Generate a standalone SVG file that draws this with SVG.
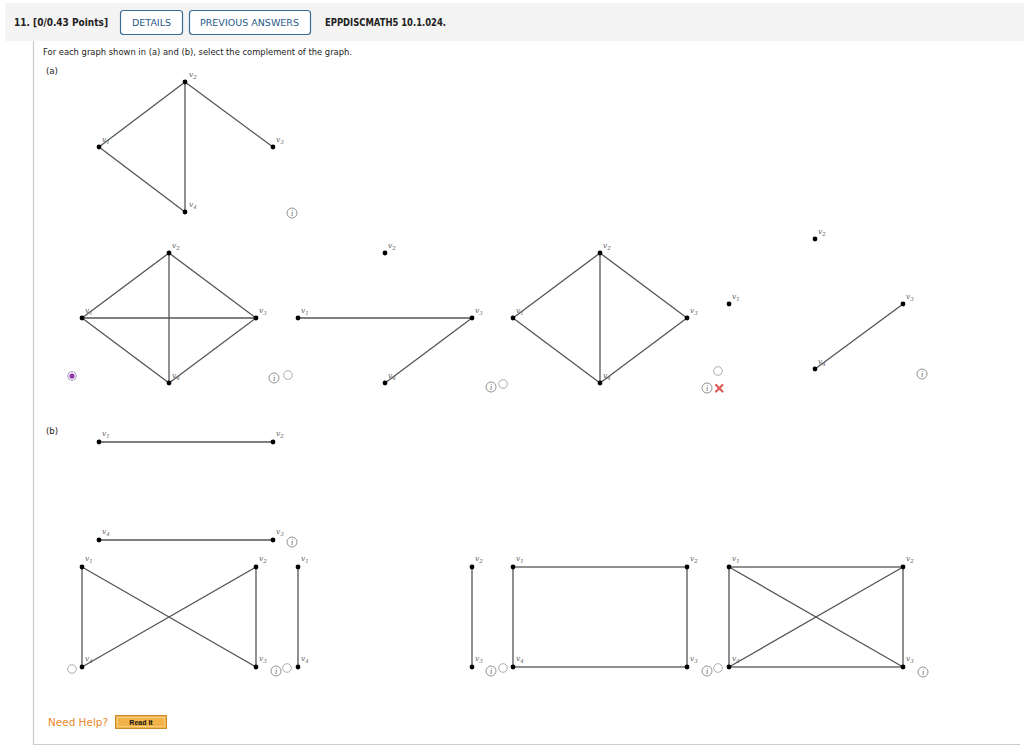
<svg xmlns="http://www.w3.org/2000/svg" width="1024" height="750" viewBox="0 0 1024 750">
<defs>
<style>
.hdr{font-family:"DejaVu Sans",Verdana,sans-serif;font-size:10px;font-weight:bold;fill:#222}
.btn{fill:#fff;stroke:#3a6d96;stroke-width:1.2}
.btxt{font-family:"DejaVu Sans",Verdana,sans-serif;font-size:9.5px;fill:#2a5a8a}
.body{font-family:"DejaVu Sans",Verdana,sans-serif;font-size:8.6px;fill:#222}
.e{stroke:#555;stroke-width:1.3;fill:none}
.n{fill:#000}
.lb{font-family:"DejaVu Serif","Liberation Serif",serif;font-style:italic;font-size:7.5px;fill:#666}
.sb{font-size:5.5px}
.info{fill:#fff;stroke:#777;stroke-width:0.8}
.itx{font-family:"Liberation Serif",serif;font-style:italic;font-size:8px;fill:#555;text-anchor:middle}
.rad{fill:#fff;stroke:#999;stroke-width:0.8}
</style>
<symbol id="inf" overflow="visible"><circle class="info" cx="0" cy="0" r="5"/><text class="itx" x="0" y="3">i</text></symbol>
<symbol id="rb" overflow="visible"><circle class="rad" cx="0" cy="0" r="4.3"/></symbol>
</defs>
<rect width="1024" height="750" fill="#fff"/>
<g id="header">
<rect x="5" y="3" width="1019" height="38" fill="#f4f4f4"/>
<text class="hdr" x="14" y="26" textLength="94" lengthAdjust="spacingAndGlyphs">11.  [0/0.43 Points]</text>
<rect class="btn" x="120.5" y="10.5" width="62" height="24" rx="3"/>
<text class="btxt" x="132" y="26" textLength="39" lengthAdjust="spacingAndGlyphs">DETAILS</text>
<rect class="btn" x="189.5" y="10.5" width="121" height="24" rx="3"/>
<text class="btxt" x="200" y="26" textLength="99" lengthAdjust="spacingAndGlyphs">PREVIOUS ANSWERS</text>
<text class="hdr" x="325" y="26" textLength="121" lengthAdjust="spacingAndGlyphs">EPPDISCMATH5 10.1.024.</text>
</g>
<g id="frame" stroke="#ccc" stroke-width="1.2" fill="none">
<path d="M33.5 41 V744.5 H1020"/>
</g>
<text class="body" x="43" y="55" textLength="309" lengthAdjust="spacingAndGlyphs">For each graph shown in (a) and (b), select the complement of the graph.</text>
<text class="body" x="46" y="74">(a)</text>
<text class="body" x="46" y="434">(b)</text>

<g id="connectors">
<line class="e" x1="99" y1="147" x2="185" y2="82"/>
<line class="e" x1="185" y1="82" x2="273" y2="147"/>
<line class="e" x1="185" y1="82" x2="185" y2="212"/>
<line class="e" x1="99" y1="147" x2="185" y2="212"/>
<line class="e" x1="82" y1="318" x2="169" y2="253"/>
<line class="e" x1="169" y1="253" x2="256" y2="318"/>
<line class="e" x1="256" y1="318" x2="169" y2="383"/>
<line class="e" x1="169" y1="383" x2="82" y2="318"/>
<line class="e" x1="82" y1="318" x2="256" y2="318"/>
<line class="e" x1="169" y1="253" x2="169" y2="383"/>
<line class="e" x1="298" y1="318" x2="472" y2="318"/>
<line class="e" x1="472" y1="318" x2="385" y2="383"/>
<line class="e" x1="513" y1="318" x2="600" y2="253"/>
<line class="e" x1="600" y1="253" x2="687" y2="318"/>
<line class="e" x1="687" y1="318" x2="600" y2="383"/>
<line class="e" x1="600" y1="383" x2="513" y2="318"/>
<line class="e" x1="600" y1="253" x2="600" y2="383"/>
<line class="e" x1="903" y1="304" x2="815" y2="369"/>
<line class="e" x1="99" y1="442" x2="273" y2="442"/>
<line class="e" x1="99" y1="540" x2="273" y2="540"/>
<line class="e" x1="82" y1="567" x2="82" y2="667"/>
<line class="e" x1="256" y1="567" x2="256" y2="667"/>
<line class="e" x1="82" y1="567" x2="256" y2="667"/>
<line class="e" x1="256" y1="567" x2="82" y2="667"/>
<line class="e" x1="298" y1="567" x2="298" y2="667"/>
<line class="e" x1="472" y1="567" x2="472" y2="667"/>
<rect class="e" x="513" y="567" width="174" height="100"/>
<rect class="e" x="729" y="567" width="174" height="100"/>
<line class="e" x1="729" y1="567" x2="903" y2="667"/>
<line class="e" x1="903" y1="567" x2="729" y2="667"/>
</g>

<g id="graph-a">
<circle class="n" cx="99" cy="147" r="2.4"/><circle class="n" cx="185" cy="82" r="2.4"/><circle class="n" cx="273" cy="147" r="2.4"/><circle class="n" cx="185" cy="212" r="2.4"/>
<text class="lb" x="102" y="142">v<tspan class="sb" dy="1.5">1</tspan></text>
<text class="lb" x="189" y="77">v<tspan class="sb" dy="1.5">2</tspan></text>
<text class="lb" x="276" y="142">v<tspan class="sb" dy="1.5">3</tspan></text>
<text class="lb" x="189" y="207">v<tspan class="sb" dy="1.5">4</tspan></text>
<use href="#inf" x="292" y="213"/>
</g>

<g id="a-opt1">
<circle class="n" cx="82" cy="318" r="2.4"/><circle class="n" cx="169" cy="253" r="2.4"/><circle class="n" cx="256" cy="318" r="2.4"/><circle class="n" cx="169" cy="383" r="2.4"/>
<text class="lb" x="85" y="313">v<tspan class="sb" dy="1.5">1</tspan></text>
<text class="lb" x="172" y="248">v<tspan class="sb" dy="1.5">2</tspan></text>
<text class="lb" x="259" y="313">v<tspan class="sb" dy="1.5">3</tspan></text>
<text class="lb" x="172" y="378">v<tspan class="sb" dy="1.5">4</tspan></text>
<circle cx="72" cy="376" r="4.3" fill="#fff" stroke="#b48cc8" stroke-width="1"/>
<circle cx="72" cy="376" r="2.6" fill="#8e3aa6"/>
</g>
<g id="a-opt2">
<circle class="n" cx="298" cy="318" r="2.4"/><circle class="n" cx="385" cy="253" r="2.4"/><circle class="n" cx="472" cy="318" r="2.4"/><circle class="n" cx="385" cy="383" r="2.4"/>
<text class="lb" x="301" y="313">v<tspan class="sb" dy="1.5">1</tspan></text>
<text class="lb" x="388" y="248">v<tspan class="sb" dy="1.5">2</tspan></text>
<text class="lb" x="475" y="313">v<tspan class="sb" dy="1.5">3</tspan></text>
<text class="lb" x="388" y="378">v<tspan class="sb" dy="1.5">4</tspan></text>
<use href="#inf" x="274" y="378"/><use href="#rb" x="288" y="375"/>
</g>
<g id="a-opt3">
<circle class="n" cx="513" cy="318" r="2.4"/><circle class="n" cx="600" cy="253" r="2.4"/><circle class="n" cx="687" cy="318" r="2.4"/><circle class="n" cx="600" cy="383" r="2.4"/>
<text class="lb" x="516" y="313">v<tspan class="sb" dy="1.5">1</tspan></text>
<text class="lb" x="603" y="248">v<tspan class="sb" dy="1.5">2</tspan></text>
<text class="lb" x="690" y="313">v<tspan class="sb" dy="1.5">3</tspan></text>
<text class="lb" x="603" y="378">v<tspan class="sb" dy="1.5">4</tspan></text>
<use href="#inf" x="491" y="387"/><use href="#rb" x="503" y="384"/>
</g>
<g id="a-opt4">
<circle class="n" cx="729" cy="304" r="2.4"/><circle class="n" cx="815" cy="239" r="2.4"/><circle class="n" cx="903" cy="304" r="2.4"/><circle class="n" cx="815" cy="369" r="2.4"/>
<text class="lb" x="732" y="299">v<tspan class="sb" dy="1.5">1</tspan></text>
<text class="lb" x="818" y="234">v<tspan class="sb" dy="1.5">2</tspan></text>
<text class="lb" x="906" y="299">v<tspan class="sb" dy="1.5">3</tspan></text>
<text class="lb" x="818" y="364">v<tspan class="sb" dy="1.5">4</tspan></text>
<use href="#rb" x="718" y="371"/>
<use href="#inf" x="707" y="388"/>
<path d="M716 385 L722.5 391.5 M722.5 385 L716 391.5" stroke="#e05a5a" stroke-width="2.2" stroke-linecap="round"/>
<use href="#inf" x="922" y="374"/>
</g>

<g id="graph-b">
<circle class="n" cx="99" cy="442" r="2.4"/><circle class="n" cx="273" cy="442" r="2.4"/><circle class="n" cx="273" cy="540" r="2.4"/><circle class="n" cx="99" cy="540" r="2.4"/>
<text class="lb" x="102" y="436">v<tspan class="sb" dy="1.5">1</tspan></text>
<text class="lb" x="276" y="436">v<tspan class="sb" dy="1.5">2</tspan></text>
<text class="lb" x="276" y="534">v<tspan class="sb" dy="1.5">3</tspan></text>
<text class="lb" x="102" y="534">v<tspan class="sb" dy="1.5">4</tspan></text>
<use href="#inf" x="292" y="542"/>
</g>
<g id="b-opt1">
<circle class="n" cx="82" cy="567" r="2.4"/><circle class="n" cx="256" cy="567" r="2.4"/><circle class="n" cx="256" cy="667" r="2.4"/><circle class="n" cx="82" cy="667" r="2.4"/>
<text class="lb" x="85" y="561">v<tspan class="sb" dy="1.5">1</tspan></text>
<text class="lb" x="259" y="561">v<tspan class="sb" dy="1.5">2</tspan></text>
<text class="lb" x="259" y="661">v<tspan class="sb" dy="1.5">3</tspan></text>
<text class="lb" x="85" y="661">v<tspan class="sb" dy="1.5">4</tspan></text>
<use href="#rb" x="72" y="669"/>
</g>
<g id="b-opt2">
<circle class="n" cx="298" cy="567" r="2.4"/><circle class="n" cx="472" cy="567" r="2.4"/><circle class="n" cx="472" cy="667" r="2.4"/><circle class="n" cx="298" cy="667" r="2.4"/>
<text class="lb" x="301" y="561">v<tspan class="sb" dy="1.5">1</tspan></text>
<text class="lb" x="475" y="561">v<tspan class="sb" dy="1.5">2</tspan></text>
<text class="lb" x="475" y="661">v<tspan class="sb" dy="1.5">3</tspan></text>
<text class="lb" x="301" y="661">v<tspan class="sb" dy="1.5">4</tspan></text>
<use href="#inf" x="276" y="671"/><use href="#rb" x="287" y="668"/>
</g>
<g id="b-opt3">
<circle class="n" cx="513" cy="567" r="2.4"/><circle class="n" cx="687" cy="567" r="2.4"/><circle class="n" cx="687" cy="667" r="2.4"/><circle class="n" cx="513" cy="667" r="2.4"/>
<text class="lb" x="516" y="561">v<tspan class="sb" dy="1.5">1</tspan></text>
<text class="lb" x="690" y="561">v<tspan class="sb" dy="1.5">2</tspan></text>
<text class="lb" x="690" y="661">v<tspan class="sb" dy="1.5">3</tspan></text>
<text class="lb" x="516" y="661">v<tspan class="sb" dy="1.5">4</tspan></text>
<use href="#inf" x="491" y="671"/><use href="#rb" x="503" y="668"/>
</g>
<g id="b-opt4">
<circle class="n" cx="729" cy="567" r="2.4"/><circle class="n" cx="903" cy="567" r="2.4"/><circle class="n" cx="903" cy="667" r="2.4"/><circle class="n" cx="729" cy="667" r="2.4"/>
<text class="lb" x="732" y="561">v<tspan class="sb" dy="1.5">1</tspan></text>
<text class="lb" x="906" y="561">v<tspan class="sb" dy="1.5">2</tspan></text>
<text class="lb" x="906" y="661">v<tspan class="sb" dy="1.5">3</tspan></text>
<text class="lb" x="732" y="661">v<tspan class="sb" dy="1.5">4</tspan></text>
<use href="#inf" x="707" y="671"/><use href="#rb" x="718" y="668"/>
<use href="#inf" x="923" y="672"/>
</g>

<g id="help">
<text x="48" y="726" font-family="'DejaVu Sans',Verdana,sans-serif" font-size="11" fill="#e8892b" textLength="60" lengthAdjust="spacingAndGlyphs">Need Help?</text>
<rect x="115.5" y="715.5" width="51" height="13" fill="#f2b44a" stroke="#c98b2a"/>
<rect x="117.5" y="717.5" width="47" height="9" fill="none" stroke="#f8d48a" stroke-width="0.8"/>
<text x="141" y="725" text-anchor="middle" font-family="'Liberation Sans',Arial,sans-serif" font-size="7" font-weight="bold" fill="#111">Read It</text>
</g>
</svg>
